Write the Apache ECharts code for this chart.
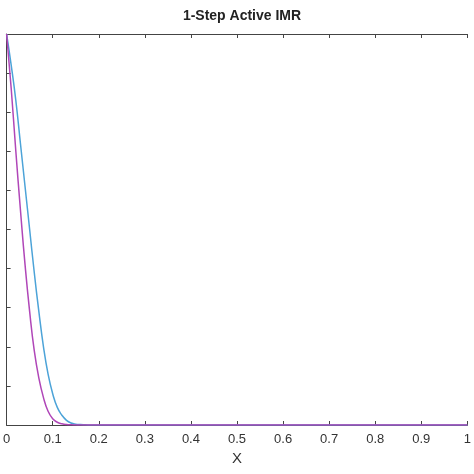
<!DOCTYPE html><html><head><meta charset="utf-8"><script src="https://cdn.jsdelivr.net/npm/echarts@6/dist/echarts.min.js"></script></head><body style="margin:0"><div id="c" style="width:474px;height:474px"></div><script>
const xs=[0,0.01,0.02,0.03,0.04,0.05,0.06,0.07,0.08,0.09,0.1,0.11,0.12,0.13,0.14,0.15,0.16,0.17,0.18,0.19,0.2,0.3,0.4,0.5,0.6,0.7,0.8,0.9,1.0];
const blue=[1,0.92,0.83,0.72,0.61,0.5,0.39,0.29,0.2,0.13,0.08,0.045,0.025,0.012,0.005,0.002,0.001,0.0005,0.0002,0,0,0,0,0,0,0,0,0,0];
const magenta=[1,0.86,0.7,0.55,0.41,0.29,0.19,0.12,0.07,0.035,0.016,0.007,0.003,0.001,0.0004,0.0001,0,0,0,0,0,0,0,0,0,0,0,0,0];
const xTicks=['0','0.1','0.2','0.3','0.4','0.5','0.6','0.7','0.8','0.9','1'];
const c=echarts.init(document.getElementById('c'));
const ax={lineStyle:{color:'#444'}};
c.setOption({animation:false,
title:{text:'1-Step Active IMR',left:237,textAlign:'center',top:4,textStyle:{fontFamily:'Liberation Sans',fontSize:14,fontWeight:'bold',color:'#222'}},
grid:{left:2,right:-1,top:34,bottom:49},
xAxis:[{type:'value',min:0,max:1,interval:0.1,name:'X',nameLocation:'middle',nameGap:26,nameTextStyle:{fontSize:15,color:'#333',fontFamily:'Liberation Sans'},
axisLine:ax,axisTick:{inside:true,length:4,lineStyle:{color:'#444'}},splitLine:{show:false},
axisLabel:{color:'#333',fontSize:13,fontFamily:'Liberation Sans',formatter:v=>xTicks[Math.round(v*10)]}},
{type:'value',position:'top',min:0,max:1,interval:0.1,axisLine:ax,axisTick:{inside:true,length:4,lineStyle:{color:'#444'}},axisLabel:{show:false},splitLine:{show:false}}],
yAxis:{type:'value',min:0,max:1,interval:0.1,axisLine:{show:true,lineStyle:{color:'#444'}},axisTick:{inside:true,length:4,lineStyle:{color:'#444'}},axisLabel:{show:false},splitLine:{show:false}},
series:[
{type:'line',smooth:true,showSymbol:false,data:xs.map((x,i)=>[x,blue[i]]),lineStyle:{color:'#4ca3d8',width:1.5}},
{type:'line',smooth:true,showSymbol:false,data:xs.map((x,i)=>[x,magenta[i]]),lineStyle:{color:'#b046b8',width:1.5}}
]});
</script></body></html>
